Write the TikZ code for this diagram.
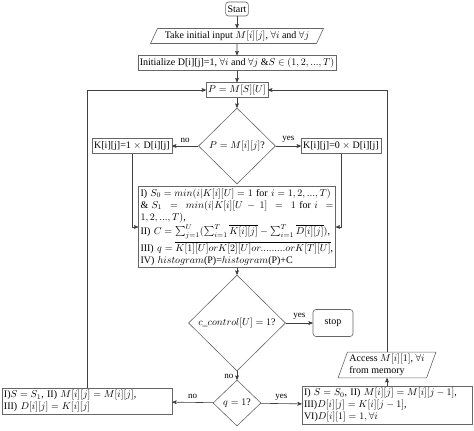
\documentclass[tikz,border=0pt]{standalone}
\usepackage{amsmath}
\usepackage{fontspec}
\setmainfont{Liberation Serif}
\usetikzlibrary{arrows,shapes.geometric}
\tikzset{
        flownode/.style = {align=center, inner sep=2pt, draw=black!60,
            line width=0.6pt},
        fl_term/.style = {flownode, rectangle, rounded corners=3pt,
            minimum height=14pt},
        fl_box/.style = {flownode, rectangle, minimum height=15pt},
        fl_io/.style = {flownode, trapezium, trapezium left angle=65,
            trapezium right angle=115, minimum height=15pt},
        fl_dec/.style = {flownode, diamond, aspect=1, inner sep=0pt},
        fl_lbl/.style = {font=\small, above, midway, draw=none}
    }

\begin{document}
\begin{tikzpicture}[x=1pt,y=-1pt,->,>=stealth',draw=black!75,line width=0.6pt]
    \useasboundingbox (0,0) rectangle (474,431);
    % main column
    \node [fl_term] (start) at (237,9) {Start};
    \node [fl_io] (input) at (237,36) {Take initial input $M[i][j]$, $\forall i$ and $\forall j$};
    \node [fl_box] (init) at (237,63) {Initialize D[i][j]=1, $\forall i$ and $\forall j$ \&$S \in (1,2,...,T)$};
    \node [fl_box] (pmat) at (237,90) {$P = M[S][U]$};
    \node [fl_dec, minimum width=77pt, minimum height=76pt] (cmp) at (237,146) {$P = M[i][j]$?};
    \node [fl_box] (kone) at (132,146) {K[i][j]=1 $\times$ D[i][j]};
    \node [fl_box] (kzero) at (341,146) {K[i][j]=0 $\times$ D[i][j]};
    \node [fl_box, text width=193pt, align=left] (calc) at (237,227) {%
        I) $S_0 = min(i|K[i][U] = 1$ for $i = 1,2,...,T)$\\
        \makebox[\linewidth][s]{\& $S_1 = min(i|K[i][U-1] = 1$ for $i =$}\\
        $1,2,...,T)$,\\[1pt]
        II) $C = \sum_{j=1}^{U}(\sum_{i=1}^{T}\overline{K[i][j]} - \sum_{i=1}^{T}\overline{D[i][j]})$,\\[2pt]
        III) $q = \overline{K[1][U] or K[2][U] or .........or K[T][U]}$,\\
        IV) $histogram$(P)=$histogram$(P)+C};
    \node [fl_dec, minimum width=97pt, minimum height=96pt] (ctrl) at (237,323) {$c\_control[U] = 1$?};
    \node [fl_term, minimum width=40pt, minimum height=27pt] (stop) at (333,323) {stop};
    \node [fl_dec, minimum width=48pt, minimum height=46pt] (qchk) at (237,403) {$q = 1$?};
    % branches of q
    \node [fl_box, text width=166pt, align=left] (upd1) at (87,401) {%
        I)$S = S_1$, II) $M[i][j] = M[i][j]$,\\
        III) $D[i][j] = K[i][j]$};
    \node [fl_box, text width=166pt, align=left] (upd0) at (387,405) {%
        I) $S = S_0$, II) $M[i][j] = M[i][j-1]$,\\
        III)$D[i][j] = K[i][j-1]$,\\
        VI)$D[i][1] = 1, \forall i$};
    \node [fl_io, align=left, trapezium left angle=70, trapezium right angle=110] (access) at (387,365) {%
        Access $M[i][1]$, $\forall i$\\
        from memory};

    \draw (start) -- (input);
    \draw (input) -- (init);
    \draw (init) -- (pmat);
    \draw (pmat) -- (cmp);
    \draw (cmp) -- node [fl_lbl] {no} (kone);
    \draw (cmp) -- node [fl_lbl] {yes} (kzero);
    \draw (kone) |- (calc);
    \draw (kzero) |- (calc);
    \draw (calc) -- (ctrl);
    \draw (ctrl) -- node [fl_lbl] {yes} (stop);
    \draw (ctrl) -- node [font=\small, left, pos=0.6] {no} (qchk);
    \draw (qchk) -- node [fl_lbl] {no} (upd1);
    \draw (qchk) -- node [fl_lbl] {yes} (upd0);
    \draw (upd0) -- (access);
    % loops back to P
    \draw (access) |- (pmat);
    \draw (upd1) |- (pmat);
\end{tikzpicture}
\end{document}
